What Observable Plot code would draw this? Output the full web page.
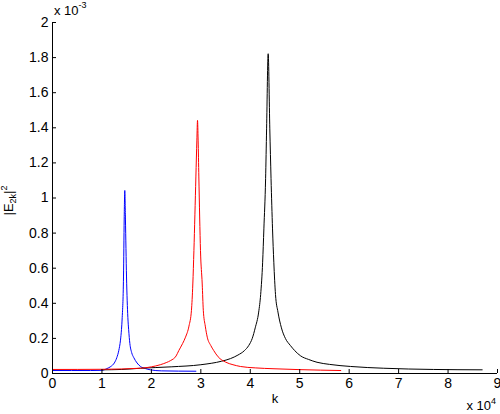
<!DOCTYPE html>
<html><head><meta charset="utf-8">
<script src="https://cdn.jsdelivr.net/npm/d3@7"></script>
<script src="https://cdn.jsdelivr.net/npm/@observablehq/plot@0.6"></script>
<style>body{margin:0;background:#fff} svg{display:block}</style>
</head><body><div id="chart"></div>
<script>
// k in units of 1e4, |E_2k|^2 in units of 1e-3
const xTicks = [0, 1, 2, 3, 4, 5, 6, 7, 8, 9];
const yTicks = [0, 0.2, 0.4, 0.6, 0.8, 1, 1.2, 1.4, 1.6, 1.8, 2];

const blueK = [0, 0.77, 1.0, 1.1, 1.18, 1.25, 1.3, 1.34, 1.375, 1.395, 1.41, 1.436, 1.45, 1.462, 1.475, 1.497, 1.524, 1.54, 1.565, 1.6, 1.645, 1.71, 1.78, 1.88, 1.98, 2.2, 2.9];
const blueE = [0.017, 0.017, 0.018, 0.028, 0.04, 0.06, 0.09, 0.13, 0.19, 0.25, 0.32, 0.55, 0.88, 1.043, 0.88, 0.55, 0.32, 0.25, 0.17, 0.12, 0.09, 0.06, 0.04, 0.028, 0.021, 0.015, 0.013];

const redK = [0, 1.0, 1.78, 2.0, 2.18, 2.3, 2.39, 2.5, 2.555, 2.63, 2.69, 2.76, 2.81, 2.838, 2.86, 2.9, 2.92, 2.933, 2.945, 2.96, 2.993, 3.028, 3.05, 3.09, 3.13, 3.2, 3.26, 3.35, 3.5, 3.65, 3.8, 4.1, 4.48, 5.0, 5.83];
const redE = [0.023, 0.024, 0.03, 0.038, 0.05, 0.062, 0.074, 0.1, 0.131, 0.17, 0.207, 0.27, 0.36, 0.51, 0.70, 1.12, 1.33, 1.442, 1.33, 1.12, 0.70, 0.51, 0.36, 0.27, 0.207, 0.16, 0.131, 0.095, 0.065, 0.05, 0.04, 0.032, 0.027, 0.022, 0.017];

const blackK = [1.0, 1.4, 1.78, 2.4, 3.0, 3.42, 3.6, 3.75, 3.88, 3.97, 4.04, 4.1, 4.17, 4.21, 4.25, 4.275, 4.31, 4.33, 4.362, 4.395, 4.42, 4.45, 4.476, 4.51, 4.56, 4.63, 4.71, 4.81, 4.9, 5.02, 5.18, 5.35, 5.6, 6.03, 6.7, 7.71, 8.69];
const blackE = [0.021, 0.023, 0.03, 0.038, 0.05, 0.07, 0.085, 0.105, 0.13, 0.16, 0.2, 0.26, 0.35, 0.45, 0.634, 0.824, 1.11, 1.394, 1.822, 1.394, 1.11, 0.824, 0.634, 0.45, 0.35, 0.26, 0.2, 0.16, 0.13, 0.1, 0.08, 0.064, 0.052, 0.04, 0.03, 0.023, 0.021];

const toRows = (ks, es) => ks.map((k, i) => ({k, e: es[i]}));

const plot = Plot.plot({
  width: 500, height: 414,
  marginLeft: 52, marginTop: 22, marginBottom: 41, marginRight: 3,
  style: {fontFamily: "'Liberation Sans', Arial, sans-serif", fontSize: "14px", color: "#000", background: "#fff"},
  x: {domain: [0, 9]},
  y: {domain: [0, 2]},
  marks: [
    Plot.line(toRows(blueK, blueE), {x: "k", y: "e", stroke: "#0000ff", strokeWidth: 1, curve: "monotone-x"}),
    Plot.line(toRows(blackK, blackE), {x: "k", y: "e", stroke: "#000000", strokeWidth: 1, curve: "monotone-x"}),
    Plot.line(toRows(redK, redE), {x: "k", y: "e", stroke: "#ff0000", strokeWidth: 1, curve: "monotone-x"}),
    Plot.ruleX([0], {stroke: "#000"}),
    Plot.ruleY([0], {stroke: "#000"}),
    Plot.axisX(xTicks, {tickSize: -4, tickPadding: 9, label: null, tickFormat: d => String(d), fontSize: 14}),
    Plot.axisY(yTicks, {tickSize: -4, tickPadding: 8, label: null, tickFormat: d => String(d), fontSize: 14}),
    Plot.text(["k"], {frameAnchor: "bottom", dy: 29, fontSize: 13})
  ]
});
document.getElementById("chart").appendChild(plot);

const svg = d3.select(plot);
const sx = plot.scale("x"), sy = plot.scale("y");
const x0 = sx.apply(0), x9 = sx.apply(9), y0 = sy.apply(0), y2 = sy.apply(2);

// y-axis label |E_2k|^2
const yl = svg.append("text")
  .attr("transform", `translate(${x0 - 39}, ${(y0 + y2) / 2 + 3}) rotate(-90)`)
  .attr("text-anchor", "middle").attr("font-size", 13).attr("fill", "#000");
yl.append("tspan").text("|E");
yl.append("tspan").attr("font-size", 9).attr("dy", 3).text("2k");
yl.append("tspan").attr("dy", -3).text("|");
yl.append("tspan").attr("font-size", 9).attr("dy", -6).text("2");

// y exponent
const ye = svg.append("text").attr("x", x0 + 2).attr("y", y2 - 7)
  .attr("text-anchor", "start").attr("font-size", 13).attr("fill", "#000");
ye.append("tspan").text("x 10");
ye.append("tspan").attr("font-size", 9).attr("dy", -7).text("-3");

// x exponent
const xe = svg.append("text").attr("x", x9 - 1).attr("y", y0 + 37)
  .attr("text-anchor", "end").attr("font-size", 13).attr("fill", "#000");
xe.append("tspan").text("x 10");
xe.append("tspan").attr("font-size", 9).attr("dy", -6).text("4");
</script>
</body></html>
